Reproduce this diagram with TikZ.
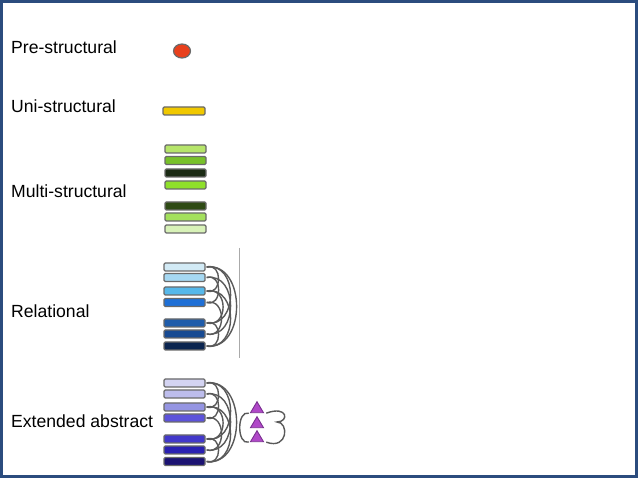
\documentclass[tikz,border=0pt]{standalone}
\usepackage{fontspec}
\setmainfont{Liberation Sans}
\usetikzlibrary{shapes.geometric}
\definecolor{frame}{HTML}{2B4C7E}
\definecolor{outl}{HTML}{6A6A6A}
\definecolor{linkc}{HTML}{5A5A5A}
\definecolor{triC}{HTML}{B048C8}
\definecolor{triD}{HTML}{7A3090}
\definecolor{dotC}{HTML}{E8401C}
\definecolor{uniC}{HTML}{F0C800}
\definecolor{vlineC}{HTML}{AAAAAA}
\definecolor{mA}{HTML}{B6E56A}
\definecolor{mB}{HTML}{78C12A}
\definecolor{mC}{HTML}{1B2B14}
\definecolor{mD}{HTML}{8FE02A}
\definecolor{mE}{HTML}{2E4A14}
\definecolor{mF}{HTML}{A3E05C}
\definecolor{mG}{HTML}{D8F2B8}
\definecolor{rA}{HTML}{D2EAF5}
\definecolor{rB}{HTML}{A6D8F2}
\definecolor{rC}{HTML}{56B8EA}
\definecolor{rD}{HTML}{1F70D6}
\definecolor{rE}{HTML}{1F5CAA}
\definecolor{rF}{HTML}{174A92}
\definecolor{rG}{HTML}{0B2550}
\definecolor{eA}{HTML}{D4D4F2}
\definecolor{eB}{HTML}{BDBDEC}
\definecolor{eC}{HTML}{9595E2}
\definecolor{eD}{HTML}{5C52DA}
\definecolor{eE}{HTML}{4238CA}
\definecolor{eF}{HTML}{2A20B2}
\definecolor{eG}{HTML}{1B1272}
\tikzset{
  lbl/.style={anchor=base west, inner sep=0pt, font=\fontsize{17.6}{20}\selectfont},
  bar/.style={draw=outl, line width=1.2pt, rounded corners=1.2pt, minimum width=41pt, minimum height=8pt, inner sep=0pt, fill=#1},
  link/.style={draw=linkc, line width=1.4pt},
  tri/.style={isosceles triangle, shape border rotate=90, isosceles triangle stretches, minimum width=13pt, minimum height=11pt, inner sep=0pt, fill=triC, draw=triD, line width=0.9pt}
}
\newcommand{\lnk}[3]{\draw[link] ([xshift=1pt]#1.east) .. controls +(#3,-5) and +(#3,5) .. ([xshift=1pt]#2.east);}
\begin{document}
\begin{tikzpicture}[x=1pt,y=-1pt]
\useasboundingbox (0,0) rectangle (638,478);
\fill[white] (0,0) rectangle (638,478);
\draw[frame, line width=2.6pt] (1.3,1.3) rectangle (636.5,476.5);

% labels
\node[lbl] (Lpre) at (11,54) {Pre-structural};
\node[lbl] (Luni) at (11,113) {Uni-structural};
\node[lbl] (Lmul) at (11,198) {Multi-structural};
\node[lbl] (Lrel) at (11,318) {Relational};
\node[lbl] (Lext) at (11,428) {Extended abstract};

% pre-structural dot
\node[ellipse, minimum width=17pt, minimum height=14pt, inner sep=0pt, fill=dotC, draw=outl, line width=1.2pt] (pre) at (182,51) {};

% uni-structural
\node[bar=uniC, minimum width=42pt] (uni) at (184,111) {};

% multi-structural
\node[bar=mA] (m1) at (185.5,149) {};
\node[bar=mB] (m2) at (185.5,160.5) {};
\node[bar=mC] (m3) at (185.5,173) {};
\node[bar=mD] (m4) at (185.5,185) {};
\node[bar=mE] (m5) at (185.5,206) {};
\node[bar=mF] (m6) at (185.5,217) {};
\node[bar=mG] (m7) at (185.5,229) {};

% relational
\node[bar=rA] (r1) at (184.5,267) {};
\node[bar=rB] (r2) at (184.5,277.5) {};
\node[bar=rC] (r3) at (184.5,291) {};
\node[bar=rD] (r4) at (184.5,302.5) {};
\node[bar=rE] (r5) at (184.5,323) {};
\node[bar=rF] (r6) at (184.5,334) {};
\node[bar=rG] (r7) at (184.5,346) {};
\coordinate (vt) at (239,248);
\coordinate (vb) at (239,358);
\draw[draw=vlineC, line width=0.8pt] (vt) -- (vb);
\lnk{r1}{r7}{40}
\lnk{r2}{r6}{32}
\lnk{r1}{r5}{32}
\lnk{r3}{r7}{32}
\lnk{r2}{r4}{16}
\lnk{r4}{r6}{20}
\lnk{r3}{r5}{22}
\lnk{r1}{r3}{16}
\lnk{r5}{r7}{16}

% extended abstract
\node[bar=eA] (e1) at (184.5,383) {};
\node[bar=eB] (e2) at (184.5,394) {};
\node[bar=eC] (e3) at (184.5,407) {};
\node[bar=eD] (e4) at (184.5,418) {};
\node[bar=eE] (e5) at (184.5,439) {};
\node[bar=eF] (e6) at (184.5,450) {};
\node[bar=eG] (e7) at (184.5,461.5) {};
\lnk{e1}{e7}{40}
\lnk{e2}{e6}{32}
\lnk{e1}{e5}{32}
\lnk{e3}{e7}{32}
\lnk{e2}{e4}{16}
\lnk{e4}{e6}{20}
\lnk{e3}{e5}{22}
\lnk{e1}{e3}{16}
\lnk{e5}{e7}{16}

\node[tri] (t1) at (257,409) {};
\node[tri] (t2) at (257,424) {};
\node[tri] (t3) at (257,438) {};
\coordinate (mid3) at (277,422);
\draw[link] ([xshift=-1pt]t1.left corner) .. controls +(-12,-3) and +(-12,3) .. ([xshift=-1pt]t3.left corner);
\draw[link] ([xshift=2pt]t1.right corner) .. controls +(22,-8) and +(12,0) .. (mid3) .. controls +(12,0) and +(22,8) .. ([xshift=2pt]t3.right corner);
\end{tikzpicture}
\end{document}
